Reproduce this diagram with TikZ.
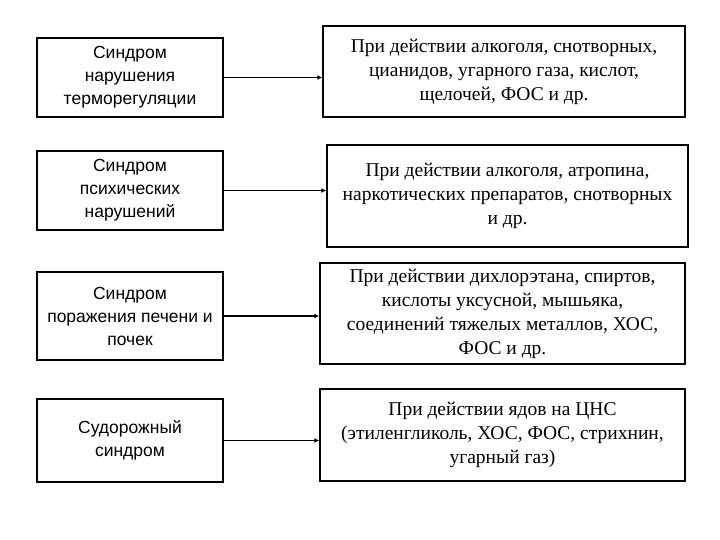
\documentclass[tikz,border=0pt]{standalone}
\usepackage{fontspec}
\setmainfont{Liberation Serif}
\newfontfamily\leftfont{Liberation Sans}
\usetikzlibrary{arrows.meta}
\tikzset{leftbox/.style={draw,line width=1.5pt,minimum width=186pt,align=center,
           inner sep=1pt,font=\leftfont\fontsize{17.5}{23}\selectfont},
         rightbox/.style={draw,line width=1.5pt,align=center,
           inner sep=1pt,font=\fontsize{19.5}{24}\selectfont},
         link/.style={draw,line width=1.5pt,-{Latex[length=5pt,width=5pt]}}}
\begin{document}
\begin{tikzpicture}[x=1pt,y=-1pt]
\useasboundingbox (0,0) rectangle (720,540);
\node[leftbox,minimum height=79pt] (L1) at (130,77.5) {Синдром\\нарушения\\терморегуляции};
\node[leftbox,minimum height=79pt] (L2) at (130,190.5) {Синдром\\психических\\нарушений};
\node[leftbox,minimum height=88pt] (L3) at (130,316) {Синдром\\поражения печени и\\почек};
\node[leftbox,minimum height=83pt] (L4) at (130,440.5) {Судорожный\\синдром};

\node[rightbox,minimum width=362pt,minimum height=91pt] (R1) at (504,71.5) {При действии алкоголя, снотворных,\\цианидов, угарного газа, кислот,\\щелочей, ФОС и др.};
\node[rightbox,minimum width=361pt,minimum height=102pt] (R2) at (507.5,196) {При действии алкоголя, атропина,\\наркотических препаратов, снотворных\\и др.};
\node[rightbox,minimum width=365pt,minimum height=101pt] (R3) at (502.5,313.5) {При действии дихлорэтана, спиртов,\\кислоты уксусной, мышьяка,\\соединений тяжелых металлов, ХОС,\\ФОС и др.};
\node[rightbox,minimum width=365pt,minimum height=92pt] (R4) at (502.5,435) {При действии ядов на ЦНС\\(этиленгликоль, ХОС, ФОС, стрихнин,\\угарный газ)};

\foreach \i in {1,...,4}
  \path[link] (L\i.east) -- (L\i.east -| R\i.west);
\end{tikzpicture}
\end{document}
